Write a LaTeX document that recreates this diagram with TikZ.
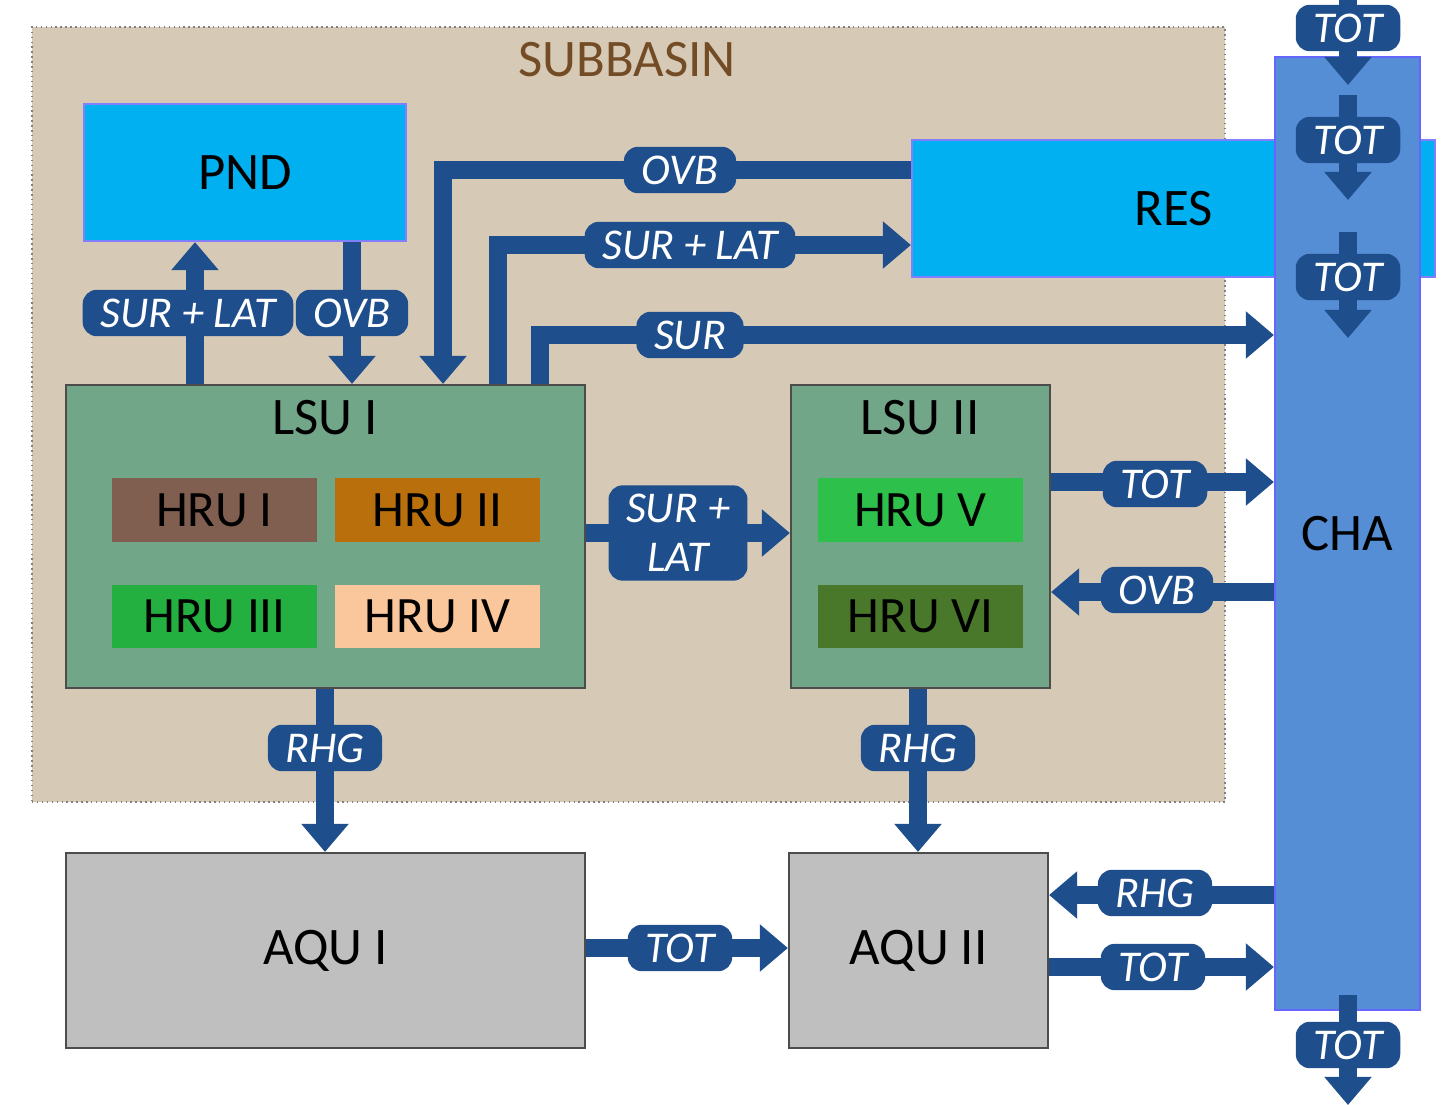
\documentclass[tikz,border=0pt]{standalone}
\usepackage{fontspec}
\setmainfont{Carlito}
\usetikzlibrary{fit,arrows.meta}
\definecolor{flowc}{HTML}{1F4E8C}
\definecolor{tan}{HTML}{D6C9B6}
\definecolor{lsu}{HTML}{72A688}
\definecolor{wat}{HTML}{00B0F0}
\definecolor{chac}{HTML}{558ED5}
\begin{document}
\begin{tikzpicture}[x=0.01cm,y=-0.01cm,
  box/.style={draw=black!70, line width=0.6pt, inner sep=0pt},
  water/.style={box, fill=wat, draw=blue!50},
  hru/.style={inner sep=0pt, font=\fontsize{14.5}{16}\selectfont},
  flow/.style={draw=flowc, line width=5.2pt, -{Triangle[width=13pt,length=8pt]}},
  lab/.style={fill=flowc, text=white, rounded corners=4pt, inner xsep=5pt, inner ysep=2.5pt,
    font=\fontsize{12.5}{14}\selectfont\itshape, align=center},
  big/.style={font=\fontsize{15}{17}\selectfont}]
\useasboundingbox (0,0) rectangle (1444,1105);
% basin
\node[fit={(32,27)(1225,802)}, inner sep=0pt, fill=tan, draw=black!50, densely dotted] (sub) {};
\node[big, text=brown!60!black] (subt) at (627,60) {SUBBASIN};
% boxes
\node[water, fit={(84,104)(406,241)}, label={[big]center:PND}] (pnd) {};
\node[water, fit={(912,140)(1435,277)}, label={[big]center:RES}] (res) {};
\node[box, fill=chac, draw=blue!60, fit={(1275,57)(1420,1010)}, label={[big]center:CHA}] (cha) {};
\node[box, fill=lsu, fit={(66,385)(585,688)}] (lsu1) {};
\node[big] at (325,418) {LSU I};
\node[box, fill=lsu, fit={(791,385)(1050,688)}] (lsu2) {};
\node[big] at (920,418) {LSU II};
\node[hru, fill={rgb,255:red,128;green,95;blue,80}, fit={(112,478)(317,542)}, label={[hru]center:HRU I}] (h1) {};
\node[hru, fill={rgb,255:red,185;green,112;blue,12}, fit={(335,478)(540,542)}, label={[hru]center:HRU II}] (h2) {};
\node[hru, fill={rgb,255:red,36;green,176;blue,64}, fit={(112,585)(317,648)}, label={[hru]center:HRU III}] (h3) {};
\node[hru, fill={rgb,255:red,250;green,198;blue,155}, fit={(335,585)(540,648)}, label={[hru]center:HRU IV}] (h4) {};
\node[hru, fill={rgb,255:red,45;green,192;blue,74}, fit={(818,478)(1023,542)}, label={[hru]center:HRU V}] (h5) {};
\node[hru, fill={rgb,255:red,74;green,120;blue,42}, fit={(818,585)(1023,648)}, label={[hru]center:HRU VI}] (h6) {};
\node[box, fill=black!25, fit={(66,853)(585,1048)}, label={[big]center:AQU I}] (aq1) {};
\node[box, fill=black!25, fit={(789,853)(1048,1048)}, label={[big]center:AQU II}] (aq2) {};
% reference coordinates
\coordinate (xa) at (195,0); \coordinate (xb) at (352,0); \coordinate (xc) at (443,0);
\coordinate (xd) at (498,0); \coordinate (xe) at (540,0); \coordinate (xf) at (325,0);
\coordinate (xg) at (918,0);
\coordinate (ya) at (0,170); \coordinate (yb) at (0,245); \coordinate (yc) at (0,335);
\coordinate (yd) at (0,533); \coordinate (ye) at (0,482); \coordinate (yf) at (0,592);
\coordinate (yg) at (0,948); \coordinate (yh) at (0,895); \coordinate (yi) at (0,967);
\coordinate (t0) at (1348,0); \coordinate (t1) at (1348,85); \coordinate (t2) at (1348,95);
\coordinate (t3) at (1348,200); \coordinate (t4) at (1348,232); \coordinate (t5) at (1348,338);
\coordinate (t6) at (1348,995); \coordinate (t7) at (1348,1105);
% flows
\draw[flow] (lsu1.north -| xa) -- (pnd.south -| xa);
\draw[flow] (pnd.south -| xb) -- (lsu1.north -| xb);
\draw[flow] (res.west |- ya) -| (lsu1.north -| xc);
\draw[flow] (lsu1.north -| xd) |- (res.west |- yb);
\draw[flow] (lsu1.north -| xe) |- (cha.west |- yc);
\draw[flow] (lsu1.east |- yd) -- (lsu2.west |- yd);
\draw[flow] (lsu2.east |- ye) -- (cha.west |- ye);
\draw[flow] (cha.west |- yf) -- (lsu2.east |- yf);
\draw[flow] (lsu1.south -| xf) -- (aq1.north -| xf);
\draw[flow] (lsu2.south -| xg) -- (aq2.north -| xg);
\draw[flow] (aq1.east |- yg) -- (aq2.west |- yg);
\draw[flow] (cha.west |- yh) -- (aq2.east |- yh);
\draw[flow] (aq2.east |- yi) -- (cha.west |- yi);
\draw[flow] (t0) -- (t1);
\draw[flow] (t2) -- (t3);
\draw[flow] (t4) -- (t5);
\draw[flow] (t6) -- (t7);
% labels
\node[lab] (l1) at (188,313) {SUR + LAT};
\node[lab] (l2) at (352,313) {OVB};
\node[lab] (l3) at (680,170) {OVB};
\node[lab] (l4) at (690,245) {SUR + LAT};
\node[lab] (l5) at (690,335) {SUR};
\node[lab] (l6) at (678,533) {SUR +\\LAT};
\node[lab] (l7) at (1155,484) {TOT};
\node[lab] (l8) at (1157,590) {OVB};
\node[lab] (l9) at (325,748) {RHG};
\node[lab] (l10) at (918,748) {RHG};
\node[lab] (l11) at (680,948) {TOT};
\node[lab] (l12) at (1155,893) {RHG};
\node[lab] (l13) at (1153,967) {TOT};
\node[lab] (l14) at (1348,28) {TOT};
\node[lab] (l15) at (1348,140) {TOT};
\node[lab] (l16) at (1348,277) {TOT};
\node[lab] (l17) at (1348,1045) {TOT};
\end{tikzpicture}
\end{document}
